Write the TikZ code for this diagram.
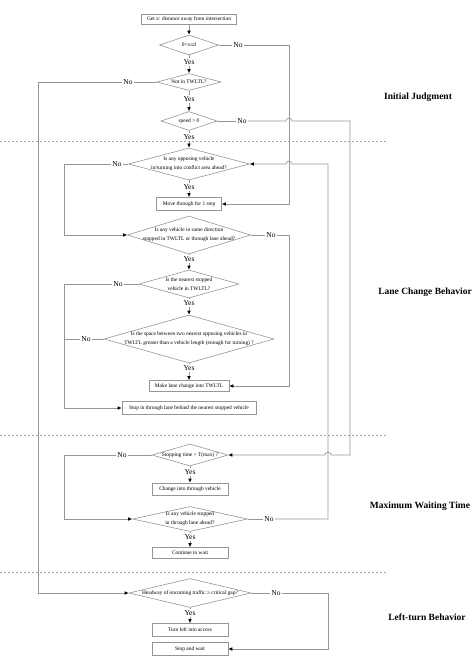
\documentclass[tikz,border=0pt]{standalone}
\usepackage{fontspec}
\setmainfont{Liberation Serif}
\usepackage{tikz}
\definecolor{linegray}{RGB}{150,150,150}
\definecolor{sepgray}{RGB}{165,165,165}
\usetikzlibrary{shapes.geometric,arrows.meta,calc}

\begin{document}
\begin{tikzpicture}[x=1pt, y=-1pt,
    box/.style={draw=linegray, line width=0.6pt, minimum height=12pt, inner sep=0pt, font=\fontsize{5.4}{6}\selectfont},
    dia/.style={draw=linegray, line width=0.6pt, diamond, inner sep=0pt},
    dtxt/.style={align=center, inner sep=0pt, font=\fontsize{5.4}{8.6}\selectfont},
    answer/.style={font=\fontsize{7.5}{8}\selectfont, inner sep=1pt},
    flow/.style={draw=linegray, line width=0.6pt},
    arr/.style={flow, -{Latex[length=4pt, width=3.5pt, black]}},
    sep/.style={draw=sepgray, line width=0.5pt, dash pattern=on 2pt off 2pt},
    section/.style={font=\bfseries\fontsize{9.5}{10}\selectfont}]
    \useasboundingbox (0,0) rectangle (474,663);

    % Bus columns
    \coordinate (busW) at (38,0);
    \coordinate (busV) at (64,0);
    \coordinate (busM) at (289,0);
    \coordinate (busR) at (328,0);
    \coordinate (busE) at (350,0);

    % Section separators
    \foreach \y in {141, 435, 572}
        \draw[sep] (0,\y) -- (388,\y);

    % Section titles
    \foreach \x/\y/\name [count=\i] in {418/97/Initial Judgment, 425/292/Lane Change Behavior, 420/506/Maximum Waiting Time, 427/617/Left-turn Behavior}
        \node[section] (title\i) at (\x,\y) {\name};

    % Initial judgment
    \node[box, minimum width=95pt, minimum height=10pt] (getx) at (189,19) {Get x: distance away from intersection};
    \node[dia, minimum width=59pt, minimum height=20pt, label={[dtxt]center:{0<x≤d}}] (range) at (189,45) {};
    \node[answer] (noA) at (238,45) {No};
    \node[answer] (yesA) at (189,62) {Yes};
    \node[dia, minimum width=64pt, minimum height=17pt, label={[dtxt]center:{Not in TWLTL?}}] (notin) at (189,82) {};
    \node[answer] (noB) at (128,82) {No};
    \node[answer] (yesB) at (189,99) {Yes};
    \node[dia, minimum width=56pt, minimum height=19pt, label={[dtxt]center:{speed > 0}}] (speed) at (189,121) {};
    \node[answer] (noC) at (242,121) {No};
    \node[answer] (yesC) at (189,137) {Yes};

    % Lane change behavior
    \node[dia, minimum width=121pt, minimum height=32pt, label={[dtxt]center:{Is any opposing vehicle\\in/turning into conflict area ahead?}}] (opposing) at (189,164) {};
    \node[answer] (noD) at (117,164) {No};
    \node[answer] (yesD) at (189,187) {Yes};
    \node[box, minimum width=65pt, minimum height=13pt] (move) at (189,204) {Move through for 1 step};
    \node[dia, minimum width=123pt, minimum height=38pt, label={[dtxt]center:{Is any vehicle in same direction\\stopped in TWLTL or through lane ahead?}}] (samedir) at (189,235) {};
    \node[answer] (noE) at (271,235) {No};
    \node[answer] (yesE) at (189,259) {Yes};
    \node[dia, minimum width=100pt, minimum height=28pt, label={[dtxt]center:{Is the nearest stopped\\vehicle in TWLTL?}}] (nearest) at (189,284) {};
    \node[answer] (noF) at (118,284) {No};
    \node[answer] (yesF) at (189,303) {Yes};
    \node[dia, minimum width=170pt, minimum height=48pt, label={[dtxt]center:{Is the space between two nearest opposing vehicles in\\TWLTL greater than a vehicle length (enough for turning) ?}}] (space) at (189,339) {};
    \node[answer] (noG) at (86,339) {No};
    \node[answer] (yesG) at (189,368) {Yes};
    \node[box, minimum width=80pt, minimum height=11pt] (lanechange) at (189,386) {Make lane change into TWLTL};
    \node[box, minimum width=134pt, minimum height=13pt] (stopbehind) at (189,408) {Stop in through lane behind the nearest stopped vehicle};

    % Maximum waiting time
    \node[dia, minimum width=76pt, minimum height=22pt, label={[dtxt]center:{Stopping time > T(max) ?}}] (stoptime) at (190,455) {};
    \node[answer] (noH) at (122,455) {No};
    \node[answer] (yesH) at (190,472) {Yes};
    \node[box, minimum width=76pt] (change) at (190,489) {Change into through vehicle};
    \node[dia, minimum width=115pt, minimum height=25pt, label={[dtxt]center:{Is any vehicle stopped\\in through lane ahead?}}] (stopped) at (190,519) {};
    \node[answer] (noI) at (269,519) {No};
    \node[answer] (yesI) at (190,537) {Yes};
    \node[box, minimum width=76pt, minimum height=11pt] (wait) at (190,553) {Continue to wait};

    % Left-turn behavior
    \node[dia, minimum width=122pt, minimum height=29pt, label={[dtxt]center:{Headway of oncoming traffic ≥ critical gap?}}] (headway) at (190,593) {};
    \node[answer] (noJ) at (276,593) {No};
    \node[answer] (yesJ) at (190,613) {Yes};
    \node[box, minimum width=76pt, minimum height=13pt] (turnleft) at (190,630) {Turn left into access};
    \node[box, minimum width=76pt, minimum height=13pt] (stopwait) at (190,649) {Stop and wait};

    % Yes branches
    \draw[arr] (getx) -- (range);
    \foreach \a/\y/\b in {range/yesA/notin, notin/yesB/speed, speed/yesC/opposing, opposing/yesD/move, samedir/yesE/nearest, nearest/yesF/space, space/yesG/lanechange, stoptime/yesH/change, stopped/yesI/wait, headway/yesJ/turnleft} {
        \draw[flow] (\a) -- (\y);
        \draw[arr] (\y) -- (\b);
    }

    % No branches
    \draw[flow] (range.east) -- (noA.west);
    \draw[arr] (noA.east) -- (noA.east -| busM) -- (move.east -| busM) -- (move.east);

    \draw[flow] (notin.west) -- (noB.east);
    \draw[arr] (noB.west) -- (noB.west -| busW) -- (headway.west -| busW) -- (headway.west);

    \draw[flow] (speed.east) -- (noC.west);
    \draw[arr] (noC.east) -- ($(noC.east -| busM)+(-3pt,0)$) to[out=90, in=90, looseness=1.6] ($(noC.east -| busM)+(3pt,0)$)
        -- (noC.east -| busE) -- (stoptime.east -| busE)
        -- ($(stoptime.east -| busR)+(3pt,0)$) to[out=90, in=90, looseness=1.6] ($(stoptime.east -| busR)+(-3pt,0)$)
        -- (stoptime.east);

    \draw[flow] (opposing.west) -- (noD.east);
    \draw[arr] (noD.west) -- (noD.west -| busV) -- (samedir.west -| busV) -- (samedir.west);

    \draw[flow] (samedir.east) -- (noE.west);
    \draw[arr] (noE.east) -- (noE.east -| busM) -- (lanechange.east -| busM) -- (lanechange.east);

    \draw[flow] (nearest.west) -- (noF.east);
    \draw[arr] (noF.west) -- (noF.west -| busV) -- (stopbehind.west -| busV) -- (stopbehind.west);

    \draw[flow] (space.west) -- (noG.east);
    \draw[flow] (noG.west) -- (noG.west -| busV);

    \draw[flow] (stoptime.west) -- (noH.east);
    \draw[arr] (noH.west) -- (noH.west -| busV) -- (stopped.west -| busV) -- (stopped.west);

    \draw[flow] (stopped.east) -- (noI.west);
    \draw[arr] (noI.east) -- (noI.east -| busR) -- (opposing.east -| busR)
        -- ($(opposing.east -| busM)+(3pt,0)$) to[out=90, in=90, looseness=1.6] ($(opposing.east -| busM)+(-3pt,0)$)
        -- (opposing.east);

    \draw[flow] (headway.east) -- (noJ.west);
    \draw[arr] (noJ.east) -- (noJ.east -| busR) -- (stopwait.east -| busR) -- (stopwait.east);
\end{tikzpicture}
\end{document}
